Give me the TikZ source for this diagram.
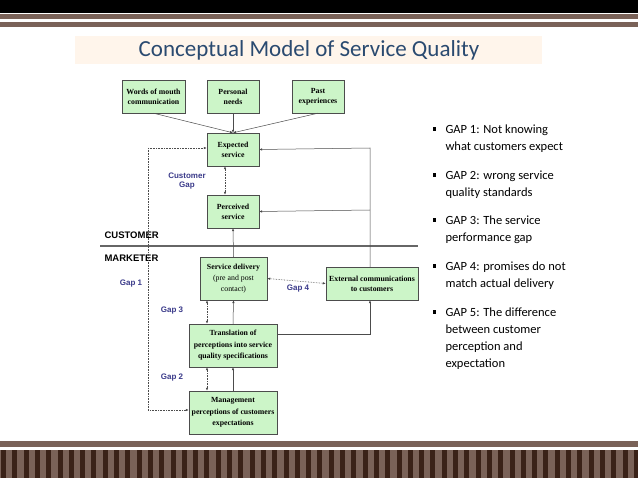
\documentclass[tikz,border=0pt]{standalone}
\usepackage{fontspec}
\setmainfont{Liberation Serif}
\newfontfamily\carl{Carlito}
\newfontfamily\lsans{Liberation Sans}
\usetikzlibrary{arrows.meta}
\definecolor{brn}{HTML}{7A6258}
\definecolor{dbrn}{HTML}{3A2218}
\definecolor{gfill}{HTML}{CCF5C8}
\definecolor{gapc}{HTML}{3A3A8A}
\definecolor{ttl}{HTML}{2A4A70}
\tikzset{
 bx/.style={draw=black!70,fill=gfill,align=center,font=\bfseries\fontsize{7.8}{10}\selectfont,inner sep=0pt},
 ar/.style={-{Latex[length=3pt,width=2.5pt]},black!70,line width=0.5pt},
 dar/.style={{Latex[length=3pt,width=2.5pt]}-{Latex[length=3pt,width=2.5pt]},black!70,densely dotted,line width=0.6pt},
 dln/.style={-{Latex[length=3pt,width=2.5pt]},black!70,densely dotted,line width=0.6pt},
 gap/.style={text=gapc,font=\lsans\bfseries\fontsize{8}{9}\selectfont,align=center},
 bul/.style={anchor=north west,align=flush left,text width=140pt,font=\carl\fontsize{12.5}{17}\selectfont}
}
\begin{document}
\begin{tikzpicture}[x=1pt,y=-1pt]
\useasboundingbox (0,0) rectangle (638,478);
\fill[white] (0,0) rectangle (638,478);
\fill[black] (0,0) rectangle (638,13);
\fill[brn] (0,14) rectangle (638,19);
\fill[brn] (0,22) rectangle (638,27);
\fill[brn] (0,441) rectangle (638,447);
\fill[brn] (0,450) rectangle (638,478);
\foreach \i in {0,...,56} {\fill[dbrn] (\i*11.3+1,450) rectangle (\i*11.3+6,478);}
\fill[orange!8] (75,36) rectangle (542,64);
\node[text=ttl,font=\carl\fontsize{23}{25}\selectfont] (title) at (309,50) {Conceptual Model of Service Quality};
% boxes
\node[bx,minimum width=63pt,minimum height=33pt] (wom) at (153.5,96.5) {Words of mouth\\communication};
\node[bx,minimum width=52pt,minimum height=33pt] (pn) at (233,96.5) {Personal\\needs};
\node[bx,minimum width=52pt,minimum height=33pt] (pe) at (318,96.5) {Past\\experiences};
\node[bx,minimum width=52pt,minimum height=33pt] (es) at (233,149.5) {Expected\\service};
\node[bx,minimum width=52pt,minimum height=33pt] (ps) at (233,211.5) {Perceived\\service};
\node[bx,minimum width=67pt,minimum height=43pt,font=\fontsize{7.8}{11}\selectfont] (sd) at (233.5,278.5) {\textbf{Service delivery}\\(pre and post\\contact)};
\node[bx,minimum width=92pt,minimum height=33pt] (ec) at (372,283.5) {External communications\\to customers};
\node[bx,minimum width=88pt,minimum height=43pt,font=\bfseries\fontsize{7.8}{11.5}\selectfont] (tr) at (233,345.5) {Translation of\\perceptions into service\\quality specifications};
\node[bx,minimum width=88pt,minimum height=43pt,font=\bfseries\fontsize{7.8}{11.5}\selectfont] (mg) at (233,412.5) {Management\\perceptions of customers\\expectations};
% divider
\draw[black!60,line width=2.5pt] (100,246) -- (418,246);
\node[anchor=west,font=\lsans\bfseries\fontsize{9.5}{10}\selectfont] (cu) at (101,235) {CUSTOMER};
\node[anchor=west,font=\lsans\bfseries\fontsize{9.5}{10}\selectfont] (mk) at (101,258) {MARKETER};
% arrows
\draw[ar] (wom.south) -- (es.north);
\draw[ar] (pn.south) -- (es.north);
\draw[ar] (pe.south) -- (es.north);
\draw[dar] ([xshift=-8pt]es.south) -- ([xshift=-8pt]ps.north);
\draw[ar] (sd.north) -- (ps.south);
\draw[ar] (tr.north) -- (sd.south);
\draw[ar] (mg.north) -- (tr.south);
\draw[dar] ([xshift=-26.5pt]sd.south) -- ([xshift=-26pt]tr.north);
\draw[dar] ([xshift=-26pt]tr.south) -- ([xshift=-26pt]mg.north);
\draw[dar] (sd.east) -- (ec.west);
\coordinate (c1) at (370,148);
\coordinate (c2) at (370,210);
\draw[ar] ([xshift=-2pt]ec.north) -- (c1) -- (es.east);
\draw[ar] (c2) -- (ps.east);
\draw[ar] (tr.east |- 0,334) -| ([xshift=-2pt]ec.south);
\coordinate (g1) at (148,148);
\coordinate (g2) at (148,410);
\draw[dln] (g1) -- (es.west |- g1);
\draw[dln] (g1) -- (g2) -- (mg.west |- g2);
\node[gap] (cg) at (187,181) {Customer\\Gap};
\node[gap] (gp1) at (131,284) {Gap 1};
\node[gap] (gp4) at (298,289) {Gap 4};
\node[gap] (gp3) at (172,311) {Gap 3};
\node[gap] (gp2) at (172,378) {Gap 2};
% bullets
\foreach \y/\t in {121/{GAP 1: Not knowing\\what customers expect},167/{GAP 2: wrong service\\quality standards},212/{GAP 3: The service\\performance gap},258/{GAP 4: promises do not\\match actual delivery},304/{GAP 5: The difference\\between customer\\perception and\\expectation}} {
 \fill (432.5,\y+6.5) rectangle ++(3.5,3.5);
 \node[bul] at (442,\y) {\t};
}
\end{tikzpicture}
\end{document}
